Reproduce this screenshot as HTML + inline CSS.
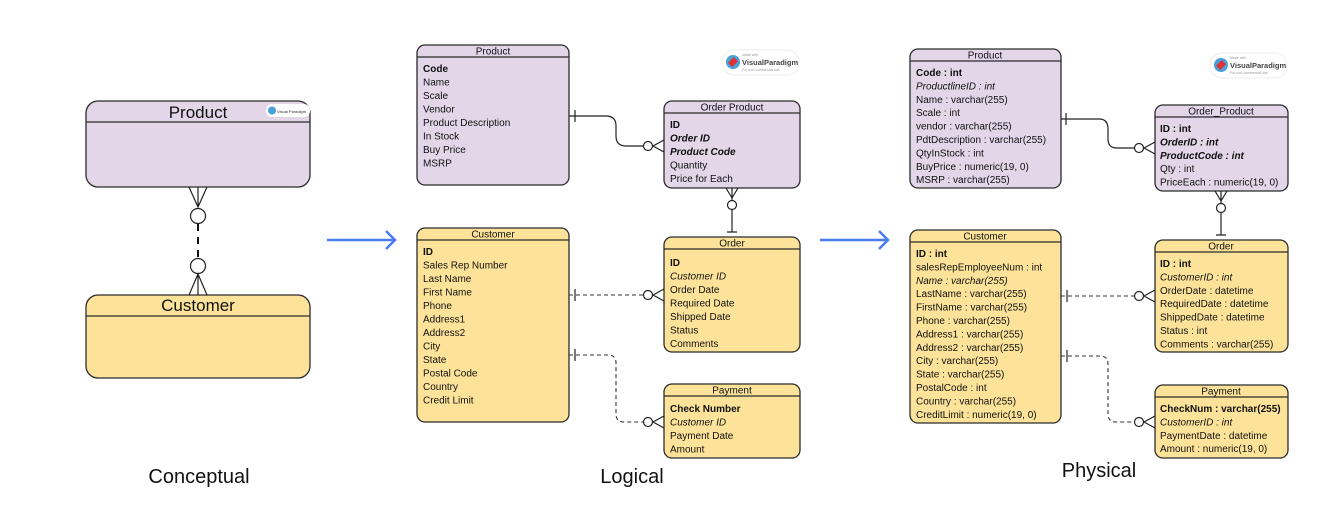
<!DOCTYPE html>
<html><head><meta charset="utf-8"><style>
html,body{margin:0;padding:0;background:#fff;}
svg{display:block;font-family:"Liberation Sans",sans-serif;}
.p{fill:#e2d6e8;stroke:#2b2b2b;stroke-width:1.3}
.y{fill:#fde39a;stroke:#2b2b2b;stroke-width:1.3}
.h{stroke:#2b2b2b;stroke-width:1.2}
.t{font-size:10px;text-anchor:middle;fill:#111}
.r{font-size:10px;fill:#111}
.b{font-weight:bold}
.i{font-style:italic}
.c{fill:none;stroke:#222;stroke-width:1.2}
.d{fill:none;stroke:#333;stroke-width:1.1;stroke-dasharray:4 3}
.o{fill:#fff;stroke:#222;stroke-width:1.2}
.lab{font-size:20px;text-anchor:middle;fill:#111}
</style></head><body>
<svg width="1329" height="506" viewBox="0 0 1329 506">
<!-- Conceptual -->
<rect class="p" x="86" y="101" width="224" height="86" rx="12"/>
<line class="h" x1="86" y1="122" x2="310" y2="122" stroke-width="1.5"/>
<text x="198" y="118" font-size="17" text-anchor="middle" fill="#111">Product</text>
<rect x="266" y="104" width="44" height="13" rx="6" fill="#fff"/>
<circle cx="272" cy="110.5" r="4" fill="#4aa0d8"/>
<text x="277" y="113" font-size="4" fill="#333">Visual Paradigm</text>
<rect class="y" x="86" y="295" width="224" height="83" rx="12"/>
<line class="h" x1="86" y1="316" x2="310" y2="316" stroke-width="1.5"/>
<text x="198" y="311" font-size="17" text-anchor="middle" fill="#111">Customer</text>
<path class="c" d="M189 187 L198 207 L207 187 M198 187 V207" stroke-width="1.5"/>
<circle class="o" cx="198" cy="216" r="7.5" stroke-width="1.5"/>
<line x1="198" y1="224" x2="198" y2="258" stroke="#111" stroke-width="2" stroke-dasharray="7 6"/>
<circle class="o" cx="198" cy="266" r="7.5" stroke-width="1.5"/>
<path class="c" d="M189 295 L198 274 L207 295 M198 274 V295" stroke-width="1.5"/>
<text class="lab" x="199" y="483">Conceptual</text>

<!-- arrows -->
<path d="M327 240 H395 M386 231 L395 240 L386 249" fill="none" stroke="#4a7cf0" stroke-width="2.5"/>
<path d="M820 240 H888 M879 231 L888 240 L879 249" fill="none" stroke="#4a7cf0" stroke-width="2.5"/>

<!-- Logical -->
<rect x="722" y="50" width="77" height="25" rx="12" fill="#fff" stroke="#eee"/>
<circle cx="733" cy="62" r="7" fill="#4aa0d8"/><rect x="730" y="58" width="6" height="8" fill="#d33" transform="rotate(45 733 62)"/>
<text x="742" y="65" font-size="7.5" font-weight="bold" fill="#444">VisualParadigm</text>
<text x="742" y="56" font-size="3.5" fill="#999">Made with</text>
<text x="742" y="71" font-size="3.5" fill="#999">For non-commercial use</text>

<rect class="p" x="417" y="45" width="152" height="140" rx="8"/>
<line class="h" x1="417" y1="57" x2="569" y2="57"/>
<text class="t" x="493" y="54.5">Product</text>
<text class="r" x="423" y="72"><tspan class="b">Code</tspan><tspan x="423" dy="13.5">Name</tspan><tspan x="423" dy="13.5">Scale</tspan><tspan x="423" dy="13.5">Vendor</tspan><tspan x="423" dy="13.5">Product Description</tspan><tspan x="423" dy="13.5">In Stock</tspan><tspan x="423" dy="13.5">Buy Price</tspan><tspan x="423" dy="13.5">MSRP</tspan></text>

<rect class="p" x="664" y="101" width="136" height="87" rx="8"/>
<line class="h" x1="664" y1="113" x2="800" y2="113"/>
<text class="t" x="732" y="110.5">Order Product</text>
<text class="r" x="670" y="128"><tspan class="b">ID</tspan><tspan x="670" dy="13.5" class="b i">Order ID</tspan><tspan x="670" dy="13.5" class="b i">Product Code</tspan><tspan x="670" dy="13.5">Quantity</tspan><tspan x="670" dy="13.5">Price for Each</tspan></text>

<rect class="y" x="417" y="228" width="152" height="194" rx="8"/>
<line class="h" x1="417" y1="240" x2="569" y2="240"/>
<text class="t" x="493" y="237.5">Customer</text>
<text class="r" x="423" y="255"><tspan class="b">ID</tspan><tspan x="423" dy="13.5">Sales Rep Number</tspan><tspan x="423" dy="13.5">Last Name</tspan><tspan x="423" dy="13.5">First Name</tspan><tspan x="423" dy="13.5">Phone</tspan><tspan x="423" dy="13.5">Address1</tspan><tspan x="423" dy="13.5">Address2</tspan><tspan x="423" dy="13.5">City</tspan><tspan x="423" dy="13.5">State</tspan><tspan x="423" dy="13.5">Postal Code</tspan><tspan x="423" dy="13.5">Country</tspan><tspan x="423" dy="13.5">Credit Limit</tspan></text>

<rect class="y" x="664" y="237" width="136" height="115" rx="8"/>
<line class="h" x1="664" y1="249" x2="800" y2="249"/>
<text class="t" x="732" y="246.5">Order</text>
<text class="r" x="670" y="266"><tspan class="b">ID</tspan><tspan x="670" dy="13.5" class="i">Customer ID</tspan><tspan x="670" dy="13.5">Order Date</tspan><tspan x="670" dy="13.5">Required Date</tspan><tspan x="670" dy="13.5">Shipped Date</tspan><tspan x="670" dy="13.5">Status</tspan><tspan x="670" dy="13.5">Comments</tspan></text>

<rect class="y" x="664" y="384" width="136" height="74" rx="8"/>
<line class="h" x1="664" y1="396" x2="800" y2="396"/>
<text class="t" x="732" y="393.5">Payment</text>
<text class="r" x="670" y="412"><tspan class="b">Check Number</tspan><tspan x="670" dy="13.5" class="i">Customer ID</tspan><tspan x="670" dy="13.5">Payment Date</tspan><tspan x="670" dy="13.5">Amount</tspan></text>

<path class="c" d="M569 116 H606 Q616 116 616 126 V136 Q616 146 626 146 H645 M575 110 V122"/>
<circle class="o" cx="648" cy="146" r="4.5"/>
<path class="c" d="M664 140 L653 146 L664 152"/>
<path class="c" d="M732 188 V232 M726 188 L732 198 L738 188 M727 232 H737"/>
<circle class="o" cx="732" cy="205" r="4.5"/>
<path class="d" d="M569 295 H644"/><path class="c" d="M575 289 V301 M664 289 L653 295 L664 301"/>
<circle class="o" cx="648" cy="295" r="4.5"/>
<path class="d" d="M569 355 H608 Q616 355 616 363 V414 Q616 422 624 422 H644"/><path class="c" d="M575 349 V361 M664 416 L653 422 L664 428"/>
<circle class="o" cx="648" cy="422" r="4.5"/>
<text class="lab" x="632" y="483">Logical</text>

<!-- Physical -->
<rect x="1210" y="53" width="77" height="25" rx="12" fill="#fff" stroke="#eee"/>
<circle cx="1221" cy="65" r="7" fill="#4aa0d8"/><rect x="1218" y="61" width="6" height="8" fill="#d33" transform="rotate(45 1221 65)"/>
<text x="1230" y="68" font-size="7.5" font-weight="bold" fill="#444">VisualParadigm</text>
<text x="1230" y="59" font-size="3.5" fill="#999">Made with</text>
<text x="1230" y="74" font-size="3.5" fill="#999">For non-commercial use</text>

<rect class="p" x="910" y="49" width="151" height="139" rx="8"/>
<line class="h" x1="910" y1="61" x2="1061" y2="61"/>
<text class="t" x="985" y="58.5">Product</text>
<text class="r" x="916" y="76"><tspan class="b">Code : int</tspan><tspan x="916" dy="13.4" class="i">ProductlineID : int</tspan><tspan x="916" dy="13.4">Name : varchar(255)</tspan><tspan x="916" dy="13.4">Scale : int</tspan><tspan x="916" dy="13.4">vendor : varchar(255)</tspan><tspan x="916" dy="13.4">PdtDescription : varchar(255)</tspan><tspan x="916" dy="13.4">QtyInStock : int</tspan><tspan x="916" dy="13.4">BuyPrice : numeric(19, 0)</tspan><tspan x="916" dy="13.4">MSRP : varchar(255)</tspan></text>

<rect class="p" x="1155" y="105" width="133" height="86" rx="8"/>
<line class="h" x1="1155" y1="117" x2="1288" y2="117"/>
<text class="t" x="1221" y="114.5">Order_Product</text>
<text class="r" x="1160" y="132"><tspan class="b">ID : int</tspan><tspan x="1160" dy="13.4" class="b i">OrderID : int</tspan><tspan x="1160" dy="13.4" class="b i">ProductCode : int</tspan><tspan x="1160" dy="13.4">Qty : int</tspan><tspan x="1160" dy="13.4">PriceEach : numeric(19, 0)</tspan></text>

<rect class="y" x="910" y="230" width="151" height="193" rx="8"/>
<line class="h" x1="910" y1="242" x2="1061" y2="242"/>
<text class="t" x="985" y="239.5">Customer</text>
<text class="r" x="916" y="257"><tspan class="b">ID : int</tspan><tspan x="916" dy="13.4">salesRepEmployeeNum : int</tspan><tspan x="916" dy="13.4" class="i">Name : varchar(255)</tspan><tspan x="916" dy="13.4">LastName : varchar(255)</tspan><tspan x="916" dy="13.4">FirstName : varchar(255)</tspan><tspan x="916" dy="13.4">Phone : varchar(255)</tspan><tspan x="916" dy="13.4">Address1 : varchar(255)</tspan><tspan x="916" dy="13.4">Address2 : varchar(255)</tspan><tspan x="916" dy="13.4">City : varchar(255)</tspan><tspan x="916" dy="13.4">State : varchar(255)</tspan><tspan x="916" dy="13.4">PostalCode : int</tspan><tspan x="916" dy="13.4">Country : varchar(255)</tspan><tspan x="916" dy="13.4">CreditLimit : numeric(19, 0)</tspan></text>

<rect class="y" x="1155" y="240" width="133" height="112" rx="8"/>
<line class="h" x1="1155" y1="252" x2="1288" y2="252"/>
<text class="t" x="1221" y="249.5">Order</text>
<text class="r" x="1160" y="267"><tspan class="b">ID : int</tspan><tspan x="1160" dy="13.4" class="i">CustomerID : int</tspan><tspan x="1160" dy="13.4">OrderDate : datetime</tspan><tspan x="1160" dy="13.4">RequiredDate : datetime</tspan><tspan x="1160" dy="13.4">ShippedDate : datetime</tspan><tspan x="1160" dy="13.4">Status : int</tspan><tspan x="1160" dy="13.4">Comments : varchar(255)</tspan></text>

<rect class="y" x="1155" y="385" width="133" height="73" rx="8"/>
<line class="h" x1="1155" y1="397" x2="1288" y2="397"/>
<text class="t" x="1221" y="394.5">Payment</text>
<text class="r" x="1160" y="412"><tspan class="b">CheckNum : varchar(255)</tspan><tspan x="1160" dy="13.4" class="i">CustomerID : int</tspan><tspan x="1160" dy="13.4">PaymentDate : datetime</tspan><tspan x="1160" dy="13.4">Amount : numeric(19, 0)</tspan></text>

<path class="c" d="M1061 119 H1099 Q1108 119 1108 129 V139 Q1108 148 1117 148 H1135 M1066 113 V125"/>
<circle class="o" cx="1139" cy="148" r="4.5"/>
<path class="c" d="M1155 142 L1144 148 L1155 154"/>
<path class="c" d="M1221 191 V235 M1215 191 L1221 201 L1227 191 M1216 235 H1226"/>
<circle class="o" cx="1221" cy="208" r="4.5"/>
<path class="d" d="M1061 296 H1135"/><path class="c" d="M1067 290 V302 M1155 290 L1144 296 L1155 302"/>
<circle class="o" cx="1139" cy="296" r="4.5"/>
<path class="d" d="M1061 356 H1100 Q1108 356 1108 364 V414 Q1108 422 1116 422 H1135"/><path class="c" d="M1067 350 V362 M1155 416 L1144 422 L1155 428"/>
<circle class="o" cx="1139" cy="422" r="4.5"/>
<text class="lab" x="1099" y="477">Physical</text>
</svg>
</body></html>
